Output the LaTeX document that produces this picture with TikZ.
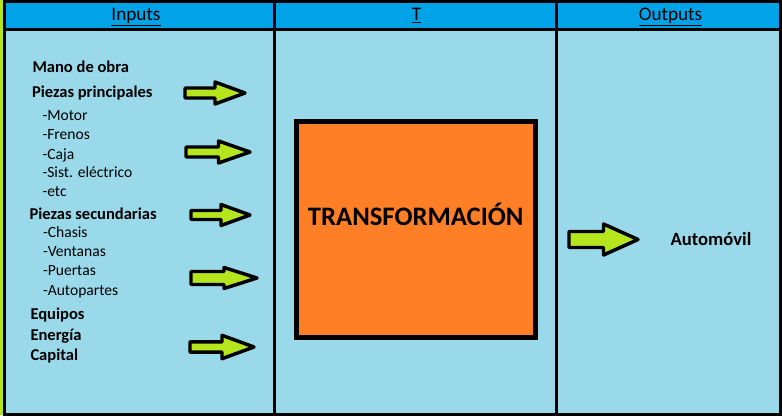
\documentclass[tikz,border=0pt]{standalone}
\usepackage{fontspec}
\setmainfont{Carlito}
\definecolor{headblue}{RGB}{0,162,232}
\definecolor{bodyblue}{RGB}{153,217,234}
\definecolor{transorange}{RGB}{255,127,39}
\definecolor{arrowgreen}{RGB}{181,230,29}

\tikzset{every picture/.style={line width=0.75pt}}
\tikzset{
  gridline/.style={draw=black, line width=2.25pt},
  greenarrow/.style={draw=black, fill=arrowgreen, line width=2.6pt, line join=round},
  headtext/.style={anchor=base, inner sep=0.75pt, font=\fontsize{14.4}{17}\selectfont},
  maintext/.style={anchor=base west, inner sep=0.75pt, font=\fontsize{12.4}{15}\selectfont\bfseries},
  subtext/.style={anchor=base west, inner sep=0.75pt, font=\fontsize{11.7}{14}\selectfont}
}

\begin{document}
\begin{tikzpicture}[x=0.75pt,y=0.75pt,yscale=-1,xscale=1]
\useasboundingbox (0,0) rectangle (782,415);

%Shape: Rectangle [body]
\fill [bodyblue] (0,0) rectangle (782,415);
%Shape: Rectangle [header]
\fill [headblue] (3,0) rectangle (782,29.5);
%Shape: Rectangle [left bar]
\fill [arrowgreen] (0,0) rectangle (3,415);

%Straight Lines [table]
\draw [gridline] (3,1.5) -- (782,1.5);
\draw [gridline] (3,29.5) -- (782,29.5);
\draw [gridline] (3,414.2) -- (782,414.2);
\draw [gridline] (4.5,0) -- (4.5,415);
\draw [gridline] (780.5,0) -- (780.5,415);
\draw [gridline] (274.5,0) -- (274.5,415);
\draw [gridline] (556.5,0) -- (556.5,415);

%Shape: Rectangle [transformation]
\draw [fill=transorange, line width=3.75pt] (296.5,121.5) -- (535,121.5) -- (535,337.5) -- (296.5,337.5) -- cycle ;

%Right Arrow [in 1]
\draw [greenarrow] (185,88) -- (215,88) -- (215,82) -- (245,93) -- (215,104) -- (215,98) -- (185,98) -- cycle ;
%Right Arrow [in 2]
\draw [greenarrow] (186,147) -- (218.5,147) -- (218.5,141) -- (250,152) -- (218.5,163) -- (218.5,157) -- (186,157) -- cycle ;
%Right Arrow [in 3]
\draw [greenarrow] (191,210.5) -- (221,210.5) -- (221,204.5) -- (250,215) -- (221,225.5) -- (221,219.5) -- (191,219.5) -- cycle ;
%Right Arrow [in 4]
\draw [greenarrow] (191,271.5) -- (224,271.5) -- (224,267.5) -- (257,278) -- (224,288.5) -- (224,284.5) -- (191,284.5) -- cycle ;
%Right Arrow [in 5]
\draw [greenarrow] (190,341.8) -- (222,341.8) -- (222,335.3) -- (254,347) -- (222,358.7) -- (222,352.2) -- (190,352.2) -- cycle ;
%Right Arrow [out]
\draw [greenarrow] (569,231.5) -- (603.5,231.5) -- (603.5,224) -- (638,239.5) -- (603.5,255) -- (603.5,247.5) -- (569,247.5) -- cycle ;

% Text Node
\draw (136,20.7) node [headtext] (inputs) {\underline{Inputs}};
% Text Node
\draw (416.5,20.7) node [headtext] (ttitle) {\underline{T}};
% Text Node
\draw (670.5,20.7) node [headtext] (outputs) {\underline{Outputs}};
% Text Node
\draw (31,72.7) node [maintext] (mano) {Mano de obra};
% Text Node
\draw (30.5,97.7) node [maintext] (principales) {Piezas principales};
% Text Node
\draw (41,120.7) node [subtext] (motor) {-Motor};
% Text Node
\draw (41,139.7) node [subtext] (frenos) {-Frenos};
% Text Node
\draw (41,159) node [subtext] (caja) {-Caja};
% Text Node
\draw (41,177.3) node [subtext] (electrico) {-Sist. eléctrico};
% Text Node
\draw (41,196.7) node [subtext] (etc) {-etc};
% Text Node
\draw (28,219) node [maintext] (secundarias) {Piezas secundarias};
% Text Node
\draw (41.5,237.3) node [subtext] (chasis) {-Chasis};
% Text Node
\draw (41.5,256) node [subtext] (ventanas) {-Ventanas};
% Text Node
\draw (41.5,275) node [subtext] (puertas) {-Puertas};
% Text Node
\draw (41.5,295) node [subtext] (autopartes) {-Autopartes};
% Text Node
\draw (29,319.3) node [maintext] (equipos) {Equipos};
% Text Node
\draw (29,340.7) node [maintext] (energia) {Energía};
% Text Node
\draw (29,360.7) node [maintext] (capital) {Capital};
% Text Node
\draw (415.7,225) node [anchor=base, inner sep=0.75pt, font=\fontsize{20}{24}\selectfont\bfseries] (transtext) {TRANSFORMACIÓN};
% Text Node
\draw (669,245.7) node [anchor=base west, inner sep=0.75pt, font=\fontsize{14}{17}\selectfont\bfseries] (auto) {Automóvil};

\end{tikzpicture}
\end{document}
